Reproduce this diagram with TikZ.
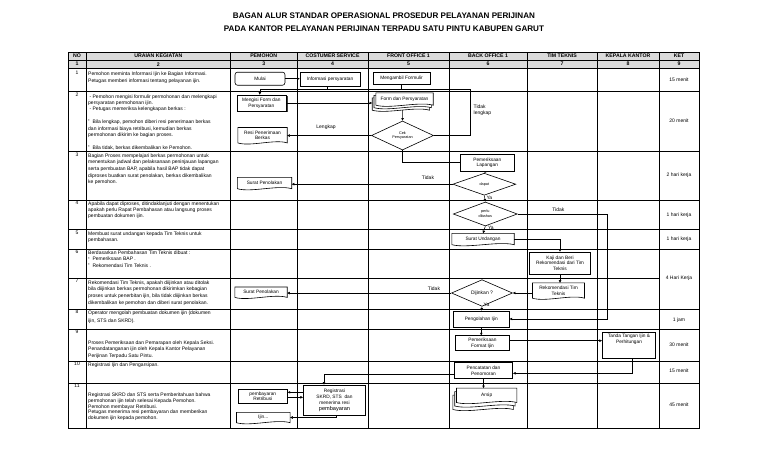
\documentclass[tikz,border=0pt]{standalone}
\usepackage{fontspec}
\setmainfont{Liberation Sans}
\usetikzlibrary{shapes.geometric,arrows.meta,calc}
\newcommand\docout[1]{\draw[shp] (#1.south west) -- (#1.north west) -- (#1.north east) -- (#1.south east) .. controls ($(#1.south east)!0.5!(#1.south)+(0,4)$) and ($(#1.south west)!0.5!(#1.south)+(0,-4)$) .. (#1.south west) -- cycle;}
\newcommand\docoutf[1]{\filldraw[shp,fill=white] (#1.south west) -- (#1.north west) -- (#1.north east) -- (#1.south east) .. controls ($(#1.south east)!0.5!(#1.south)+(0,4)$) and ($(#1.south west)!0.5!(#1.south)+(0,-4)$) .. (#1.south west) -- cycle;}
\newcommand\myast{\raisebox{0.8pt}{\fontsize{4}{4}\selectfont*}}
\tikzset{
  sz/.style 2 args={minimum width=#1,minimum height=#2},
  shp/.style={line width=0.6pt},
  box/.style={draw,shp,rectangle,inner sep=0pt,align=center,font=\fontsize{4.8}{5.7}\selectfont},
  rbox/.style={box,rounded corners=2.5pt},
  docn/.style={rectangle,inner sep=0pt,align=center,font=\fontsize{4.8}{5.7}\selectfont},
  dia/.style={draw,shp,diamond,inner sep=0pt,align=center,font=\fontsize{3.8}{4.8}\selectfont},
  arr/.style={line width=0.5pt,-{Triangle[length=2.6pt,width=2.4pt]}},
  ln/.style={line width=0.5pt},
  lbl/.style={font=\fontsize{5}{6}\selectfont,inner sep=0pt},
  desc/.style={anchor=north west,align=left,inner sep=0pt},
  hdr/.style={font=\bfseries\fontsize{5.2}{6}\selectfont,inner sep=0pt},
  num/.style={font=\fontsize{5}{6}\selectfont,inner sep=0pt},
  ket/.style={font=\fontsize{5}{6}\selectfont,inner sep=0pt}
}
\begin{document}
\begin{tikzpicture}[x=1pt,y=1pt]
\useasboundingbox (0,0) rectangle (768,-466);
\fill[white] (0,0) rectangle (768,-466);
% title
\node[align=center,font=\bfseries\fontsize{8.1}{13}\selectfont,inner sep=0pt] (title) at (384,-22)
  {BAGAN ALUR STANDAR OPERASIONAL PROSEDUR PELAYANAN PERIJINAN\\PADA KANTOR PELAYANAN PERIJINAN TERPADU SATU PINTU KABUPEN GARUT};
% table
\fill[gray!28] (68,-52) rectangle (699,-68);
\foreach \yy in {60,68,91,151,200,229,249,309,329,361,383}
  \draw[line width=0.5pt] (68,-\yy) -- (699,-\yy);
\draw[line width=0.5pt] (68,-278) -- (659,-278);
\foreach \xx in {86,230.5,297,368,449,527,597,659}
  \draw[line width=0.5pt] (\xx,-52) -- (\xx,-428);
\draw[line width=0.9pt] (68,-52) rectangle (699,-428);
\draw[line width=0.9pt] (68,-68) -- (699,-68);
% header texts
\foreach \cx/\t/\n in {77/NO/1,158.3/URAIAN KEGIATAN/2,263.7/PEMOHON/3,332.5/COSTUMER SERVICE/4,408.5/FRONT OFFICE 1/5,488/BACK OFFICE 1/6,562/TIM TEKNIS/7,628/KEPALA KANTOR/8,679/KET/9}{
  \node[hdr] (h\n) at (\cx,-56) {\t};
  \node[hdr] (hn\n) at (\cx,-64.2) {\n};
}
% row numbers
\foreach \n/\yy in {1/72.7,2/94.5,3/154.3,4/202.7,5/232.7,6/251.7,7/281,8/312,9/332,10/364,11/386}
  \node[num] (no\n) at (77,-\yy) {\n};
% descriptions
\node[desc,font=\fontsize{5}{7}\selectfont] (d1) at (88,-71.5) {Pemohon meminta Informasi Ijin ke Bagian Informasi.\\Petugas memberi informasi tentang pelayanan ijin.};
\node[desc,font=\fontsize{5}{5.9}\selectfont] (d2a) at (88,-94.8) {\ - Pemohon mengisi formulir permohonan dan melengkapi\\persyaratan permohonan ijin.\\\ - Petugas memeriksa kelengkapan berkas :};
\node[desc,font=\fontsize{5}{6.6}\selectfont] (d2b) at (88,-119.6) {\myast\ \ Bila lengkap, pemohon diberi resi penerimaan berkas\\dan informasi biaya retribusi, kemudian berkas\\permohonan dikirim ke bagian proses.};
\node[desc,font=\fontsize{5}{6}\selectfont] (d2c) at (88,-145.2) {\myast\ \ Bila tidak, berkas dikembalikan ke Pemohon.};
\node[desc,font=\fontsize{5}{6.7}\selectfont] (d3) at (88,-153.3) {Bagian Proses mempelajari berkas permohonan untuk\\menentukan jadwal dan pelaksanaan peninjauan lapangan\\serta pembuatan BAP, apabila hasil BAP tidak dapat\\diproses buatkan surat penolakan, berkas dikembalikan\\ke pemohon.};
\node[desc,font=\fontsize{5}{5.8}\selectfont] (d4) at (88,-201.8) {Apabila dapat diproses, ditindaklanjuti dengan menentukan\\apakah perlu Rapat Pembahasan atau langsung proses\\pembuatan dokumen ijin.};
\node[desc,font=\fontsize{5}{6.6}\selectfont] (d5) at (88,-231.5) {Membuat surat undangan kepada Tim Teknis untuk\\pembahasan.};
\node[desc,font=\fontsize{5}{6.2}\selectfont] (d6) at (88,-250.8) {Berdasarkan Pembahasan Tim Teknis dibuat :\\\myast\ \ Pemeriksaan BAP .\\\myast\ \ Rekomendasi Tim Teknis .};
\node[desc,font=\fontsize{5}{6.7}\selectfont] (d7) at (88,-280.3) {Rekomendasi Tim Teknis, apakah diijinkan atau ditolak\\bila diijinkan berkas permohonan dikirimkan kebagian\\proses untuk penerbitan ijin, bila tidak diijinkan berkas\\dikembalikan ke pemohon dan diberi surat penolakan.};
\node[desc,font=\fontsize{5}{7.3}\selectfont] (d8) at (88,-310.9) {Operator mengolah pembuatan dokumen ijin (dokumen\\ijin, STS dan SKRD).};
\node[desc,font=\fontsize{5}{6.7}\selectfont] (d9) at (88,-340.4) {Proses Pemeriksaan dan Pemarapan oleh Kepala Seksi.\\Penandatanganan ijin oleh Kepala Kantor Pelayanan\\Perijinan Terpadu Satu Pintu.};
\node[desc,font=\fontsize{5}{6}\selectfont] (d10) at (88,-362.6) {Registrasi Ijin dan Pengarsipan.};
\node[desc,font=\fontsize{5}{5.85}\selectfont] (d11) at (88,-392.5) {Registrasi SKRD dan STS serta Pemberitahuan bahwa\\permohonan ijin telah selesai Kepada Pemohon.\\Pemohon membayar Retribusi.\\Petugas menerima resi pembayaran dan memberikan\\dokumen ijin kepada pemohon.};
% KET
\foreach \k/\yy/\t in {1/79.3/15 menit,2/121/20 menit,3/175/2 hari kerja,4/215/1 hari kerja,5/239.3/1 hari kerja,6/278.3/4 Hari Kerja,7/320/1 jam,8/345/30 menit,9/371/15 menit,10/405/45 menit}
  \node[ket] (k\k) at (679,-\yy) {\t};
% flow shapes
\node[rbox,sz={50}{13}] (mulai) at (260,-78.7) {Mulai};
\node[box,sz={60}{14.5}] (info) at (330,-79.3) {Informasi persyaratan};
\node[box,sz={57}{12}] (ambil) at (401.5,-78) {Mengambil Formulir};
\fill[black!75] (237.8,-96.2) rectangle (287.8,-112.2);
\node[box,sz={49}{16},fill=white] (isi) at (261.3,-103) {Mengisi Form dan\\Persyaratan};
\node[docn,sz={49}{15}] (resi) at (262.5,-135.2) {Resi Penerimaan\\Berkas}; \docout{resi}
\node[docn,sz={57}{12}] (formb2) at (400.9,-104) {}; \docoutf{formb2}
\node[docn,sz={57}{12}] (formb1) at (402.7,-101.5) {}; \docoutf{formb1}
\node[docn,sz={57}{12}] (formf) at (404.5,-99) {}; \docoutf{formf}
\node[docn,sz={57}{12}] (form) at (formf) {Form dan Persyaratan};
\node[dia,sz={62}{29}] (cek) at (402.5,-135.5) {Cek\\Persyaratan};
\node[box,sz={53.3}{16.7}] (lap) at (487.3,-162.7) {Pemeriksaan\\Lapangan};
\node[dia,sz={63}{22}] (dapat) at (484.3,-184.2) {dapat};
\node[docn,sz={54}{11}] (tolak1) at (264.5,-183) {Surat Penolakan}; \docout{tolak1}
\node[dia,sz={64}{24}] (perlu) at (485.3,-214) {perlu\\dibahas};
\node[docn,sz={62}{11}] (undang) at (483,-239) {Surat Undangan}; \docout{undang}
\node[box,sz={61}{22}] (kaji) at (560,-263) {Kaji dan Beri\\Rekomendasi dari Tim\\Teknis};
\node[docn,sz={51.6}{15}] (rek) at (558.5,-290.5) {Rekomendasi Tim\\Teknis}; \docout{rek}
\node[dia,sz={61}{17.4},font=\fontsize{5}{6}\selectfont] (ijinkan) at (482,-293) {Dijinkan ?};
\node[docn,sz={52}{10}] (tolak2) at (261,-292.2) {Surat Penolakan}; \docout{tolak2}
\node[box,sz={56}{16.3}] (olah) at (481.3,-319) {Pengolahan Ijin};
\node[box,sz={53.6}{15}] (format) at (482.5,-343.2) {Pemeriksaan\\Format Ijin};
\node[box,sz={53.4}{26}] (ttd) at (629,-345.3) {};
\node[lbl,align=center,anchor=north,font=\fontsize{4.8}{5.8}\selectfont] (ttdtxt) at ([yshift=-1.8pt]ttd.north) {Tanda Tangan Ijin \&\\Perhitungan};
\node[box,sz={58.4}{15.6}] (catat) at (483.5,-370.5) {Pencatatan dan\\Penomoran};
\node[docn,sz={60}{14}] (arsb2) at (483.1,-402.3) {}; \docoutf{arsb2}
\node[docn,sz={60}{14}] (arsb1) at (484.9,-398.8) {}; \docoutf{arsb1}
\node[docn,sz={60}{14}] (arsf) at (486.7,-395.3) {}; \docoutf{arsf}
\node[docn,sz={60}{14}] (arsip) at (arsf) {Arsip};
\node[box,sz={62.4}{30.7}] (reg) at (334.5,-400.3) {Registrasi\\SKRD, STS\ \ dan\\menerima resi\\{\fontsize{5.6}{6.4}\selectfont pembayaran}};
\node[box,sz={49}{14.3}] (bayar) at (262.8,-396.2) {pembayaran\\Retribusi};
\node[docn,sz={53.3}{10}] (ijin) at (263.3,-417.5) {Ijin...}; \docout{ijin}
% connectors
\coordinate (loopR) at (470,-89);
\draw[arr] (mulai.east) -- (mulai.east -| info.west);
\draw[arr] (cek.east) -- (cek.east -| loopR) -- (loopR) -- ([xshift=-1.5pt]isi.north |- loopR) -- ([xshift=-1.5pt]isi.north);
\draw[ln] ([xshift=-3pt]info.south) -- ([xshift=-3pt]info.south |- loopR);
\draw[ln] (ambil.south) -- (ambil.south |- loopR);
\draw[arr] (isi.east) -- (isi.east -| formb2.west);
\draw[arr] (formb1.south |- formb2.south) -- (cek.north);
\draw[arr] (cek.west) -- (cek.west -| resi.east);
\node[lbl] (lLengkap) at (326,-127) {Lengkap};
\node[lbl,align=left,anchor=west] (lTL) at (473.5,-110.3) {Tidak\\lengkap};
\draw[ln] (cek.south) |- (lap.west);
\draw[ln] (lap.south) -- (dapat.north);
\draw[arr] (dapat.west) -- (dapat.west -| tolak1.east);
\node[lbl] (lT1) at (428,-177.7) {Tidak};
\draw[arr] (dapat.south) -- (perlu.north);
\node[lbl,anchor=west] (lYa1) at (486.3,-197.7) {Ya};
\draw[arr] (perlu.east) -- ++(89.4,0) |- (olah.east);
\node[lbl] (lT2) at (558.3,-209.3) {Tidak};
\draw[arr] (perlu.south) -- (undang.north);
\node[lbl,anchor=west] (lYa2) at (487.8,-228) {Ya};
\draw[arr] (undang.east) -| (kaji.north);
\draw[arr] (kaji.south) -- (kaji.south |- rek.north);
\draw[arr] (ijinkan.east -| rek.west) -- (ijinkan.east);
\draw[arr] (ijinkan.west) -- (ijinkan.west -| tolak2.east);
\node[lbl] (lT3) at (434,-288.3) {Tidak};
\draw[arr] (ijinkan.south) -- (olah.north);
\node[lbl,anchor=west] (lYa3) at (483.5,-305) {Ya};
\draw[arr] (olah.south) -- (olah.south |- format.north);
\draw[arr] ([yshift=2.5pt]format.east) -- ([yshift=2.5pt]format.east -| ttd.west);
\draw[arr] ([xshift=3.3pt]ttd.south) |- ([yshift=-2.8pt]catat.east);
\draw[arr] ([yshift=-3.5pt]catat.west) -| ([xshift=-10.5pt]reg.north);
\draw[arr] (catat.south) -- (catat.south |- arsf.north);
\draw[arr] ([yshift=8pt]reg.west) -- ([yshift=8pt]reg.west -| bayar.east);
\draw[arr] ([yshift=3pt]reg.west -| bayar.east) -- ([yshift=3pt]reg.west);
\draw[arr] ([xshift=1.5pt]reg.south) |- (ijin.east);
\end{tikzpicture}
\end{document}
